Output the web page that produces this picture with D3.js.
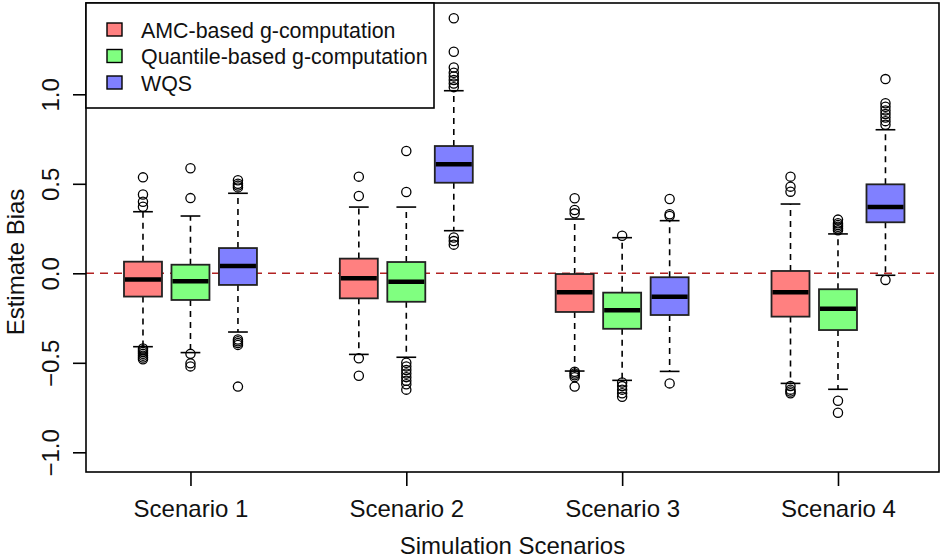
<!DOCTYPE html>
<html>
<head>
<meta charset="utf-8">
<script src="https://cdn.jsdelivr.net/npm/d3@7"></script>
<style>
    body { margin: 0; background: #fff; }
    svg { font-family: "Liberation Sans", Arial, sans-serif; }
</style>
</head>
<body>
<svg id="boxplotSvg" width="944" height="558"></svg>
<script>
// categories
const scenarios = ["Scenario 1", "Scenario 2", "Scenario 3", "Scenario 4"];
const methods = ["AMC-based g-computation", "Quantile-based g-computation", "WQS"];
const methodColors = ["#ff8080", "#80ff80", "#8080ff"];
const yTicks = [-1.0, -0.5, 0.0, 0.5, 1.0];

// box statistics, one row per method, one entry per scenario
const whiskerLow = [
    [-0.41, -0.453, -0.546, -0.615],
    [-0.443, -0.469, -0.598, -0.648],
    [-0.328, 0.238, -0.548, -0.011]
];
const quartile1 = [
    [-0.13, -0.14, -0.216, -0.242],
    [-0.149, -0.159, -0.31, -0.317],
    [-0.065, 0.506, -0.233, 0.285]
];
const medians = [
    [-0.034, -0.028, -0.106, -0.106],
    [-0.045, -0.047, -0.207, -0.198],
    [0.041, 0.609, -0.131, 0.37]
];
const quartile3 = [
    [0.065, 0.082, -0.004, 0.013],
    [0.048, 0.063, -0.108, -0.089],
    [0.141, 0.711, -0.022, 0.497]
];
const whiskerHigh = [
    [0.344, 0.37, 0.303, 0.387],
    [0.32, 0.37, 0.199, 0.22],
    [0.447, 1.02, 0.294, 0.802]
];
const outliers = [
    [
        [0.536, 0.44, 0.40, 0.372, -0.42, -0.43, -0.44, -0.45, -0.46, -0.47, -0.48],
        [0.54, 0.432, -0.475, -0.572],
        [0.419, 0.354, 0.335, -0.55, -0.56, -0.57, -0.58, -0.633],
        [0.54, 0.484, 0.456, -0.63, -0.65, -0.66, -0.67]
    ],
    [
        [0.587, 0.42, -0.45, -0.503, -0.52],
        [0.683, 0.454, -0.50, -0.52, -0.54, -0.56, -0.58, -0.60, -0.62, -0.65],
        [0.21, -0.61, -0.63, -0.65, -0.67, -0.69],
        [0.30, 0.28, 0.27, 0.26, 0.25, 0.24, -0.712, -0.779]
    ],
    [
        [0.52, 0.50, 0.49, 0.48, -0.37, -0.38, -0.39, -0.40, -0.633],
        [1.425, 1.238, 1.15, 1.12, 1.10, 1.08, 1.06, 1.04, 0.20, 0.18, 0.16],
        [0.415, 0.33, 0.32, -0.615],
        [1.085, 0.95, 0.93, 0.91, 0.89, 0.87, 0.85, 0.83, -0.037]
    ]
];

document.addEventListener('DOMContentLoaded', function () {
    drawBoxplot();
});

function drawBoxplot() {
    const svg = d3.select('#boxplotSvg');
    const width = +svg.attr('width');
    const height = +svg.attr('height');

    const margin = { top: 3, bottom: 86, right: 5, left: 86 };
    const innerWidth = width - margin.left - margin.right;
    const innerHeight = height - margin.top - margin.bottom;

    // flatten into one record per box
    const boxes = [];
    methods.forEach((m, mi) => {
        scenarios.forEach((s, si) => {
            boxes.push({
                method: mi, scenario: si,
                lo: whiskerLow[mi][si], q1: quartile1[mi][si], med: medians[mi][si],
                q3: quartile3[mi][si], hi: whiskerHigh[mi][si], out: outliers[mi][si]
            });
        });
    });

    const xScale = d3.scaleLinear()
        .domain([0.516, 4.468]) // scenario index space
        .range([0, innerWidth]);
    const yScale = d3.scaleLinear()
        .domain([-1.11, 1.51])
        .range([innerHeight, 0]);

    const offset = 0.22;     // spacing between methods inside a scenario
    const boxW = 0.176;      // box width in scenario units
    const pos = d => xScale(d.scenario + 1 + (d.method - 1) * offset);
    const boxPx = xScale(boxW) - xScale(0);
    const capPx = boxPx * 0.52;

    const g = svg.append('g')
        .attr('transform', 'translate(' + margin.left + ', ' + margin.top + ')');

    // reference line at zero
    g.append('line')
        .attr('x1', 0).attr('x2', innerWidth)
        .attr('y1', yScale(0)).attr('y2', yScale(0))
        .attr('stroke', '#b22222')
        .attr('stroke-width', 1.6)
        .attr('stroke-dasharray', '8,6');

    const box = g.selectAll('g.box')
        .data(boxes)
        .enter()
        .append('g')
        .attr('class', 'box');

    // whiskers
    box.append('line')
        .attr('x1', pos).attr('x2', pos)
        .attr('y1', d => yScale(d.q3)).attr('y2', d => yScale(d.hi))
        .attr('stroke', '#000').attr('stroke-width', 1.6)
        .attr('stroke-dasharray', '6,5');
    box.append('line')
        .attr('x1', pos).attr('x2', pos)
        .attr('y1', d => yScale(d.q1)).attr('y2', d => yScale(d.lo))
        .attr('stroke', '#000').attr('stroke-width', 1.6)
        .attr('stroke-dasharray', '6,5');

    // staples
    ['lo', 'hi'].forEach(k => {
        box.append('line')
            .attr('x1', d => pos(d) - capPx / 2).attr('x2', d => pos(d) + capPx / 2)
            .attr('y1', d => yScale(d[k])).attr('y2', d => yScale(d[k]))
            .attr('stroke', '#000').attr('stroke-width', 1.6);
    });

    // boxes
    box.append('rect')
        .attr('x', d => pos(d) - boxPx / 2)
        .attr('width', boxPx)
        .attr('y', d => yScale(d.q3))
        .attr('height', d => yScale(d.q1) - yScale(d.q3))
        .attr('fill', d => methodColors[d.method])
        .attr('stroke', '#222').attr('stroke-width', 1.8);

    // medians
    box.append('line')
        .attr('x1', d => pos(d) - boxPx / 2 + 1).attr('x2', d => pos(d) + boxPx / 2 - 1)
        .attr('y1', d => yScale(d.med)).attr('y2', d => yScale(d.med))
        .attr('stroke', '#000').attr('stroke-width', 4.5);

    // outliers
    box.selectAll('circle')
        .data(d => d.out.map(v => ({ v: v, x: pos(d) })))
        .enter()
        .append('circle')
        .attr('cx', d => d.x)
        .attr('cy', d => yScale(d.v))
        .attr('r', 4.6)
        .attr('fill', 'none')
        .attr('stroke', '#000')
        .attr('stroke-width', 1.3);

    // frame
    g.append('rect')
        .attr('width', innerWidth).attr('height', innerHeight)
        .attr('fill', 'none').attr('stroke', '#000').attr('stroke-width', 1.6);

    // axes
    const xAxis = d3.axisBottom(xScale)
        .tickValues([1, 2, 3, 4])
        .tickFormat(d => scenarios[d - 1])
        .tickSizeOuter(0).tickSize(14).tickPadding(14);
    g.append('g').call(xAxis)
        .attr('transform', `translate(0,${innerHeight})`)
        .call(a => a.select('.domain').remove())
        .selectAll('text')
        .style('font-size', '24px')
        .attr('fill', '#111');

    const yAxis = d3.axisLeft(yScale)
        .tickValues(yTicks)
        .tickFormat(d3.format('.1f'))
        .tickSizeOuter(0).tickSize(13);
    const yg = g.append('g').call(yAxis);
    yg.select('.domain').remove();
    yg.selectAll('line').attr('stroke-width', 1.6);
    g.selectAll('.tick line').attr('stroke-width', 1.6);
    yg.selectAll('text')
        .style('font-size', '24px')
        .attr('fill', '#111')
        .attr('text-anchor', 'middle')
        .attr('dy', 0)
        .attr('x', 0)
        .attr('transform', 'translate(-27,0) rotate(-90)');

    // axis titles
    svg.append('text')
        .attr('transform', 'translate(24,262) rotate(-90)')
        .attr('text-anchor', 'middle')
        .style('font-size', '24px')
        .attr('fill', '#111')
        .text('Estimate Bias');
    svg.append('text')
        .attr('x', margin.left + innerWidth / 2)
        .attr('y', 554)
        .attr('text-anchor', 'middle')
        .style('font-size', '24px')
        .attr('fill', '#111')
        .text('Simulation Scenarios');

    // legend
    const legend = svg.append('g')
        .attr('transform', 'translate(' + margin.left + ', ' + margin.top + ')');
    legend.append('rect')
        .attr('width', 348).attr('height', 105)
        .attr('fill', '#fff').attr('stroke', '#000').attr('stroke-width', 1.6);
    const item = legend.selectAll('g.item')
        .data(methods)
        .enter()
        .append('g')
        .attr('class', 'item')
        .attr('transform', (d, i) => 'translate(0,' + (27 + i * 26.5) + ')');
    item.append('rect')
        .attr('x', 21).attr('y', -7)
        .attr('width', 15).attr('height', 13)
        .attr('fill', (d, i) => methodColors[i])
        .attr('stroke', '#000').attr('stroke-width', 1.4);
    item.append('text')
        .attr('x', 55).attr('y', 0).attr('dy', '0.36em')
        .style('font-size', '21.4px')
        .attr('fill', '#111')
        .text(d => d);
}
</script>
</body>
</html>
